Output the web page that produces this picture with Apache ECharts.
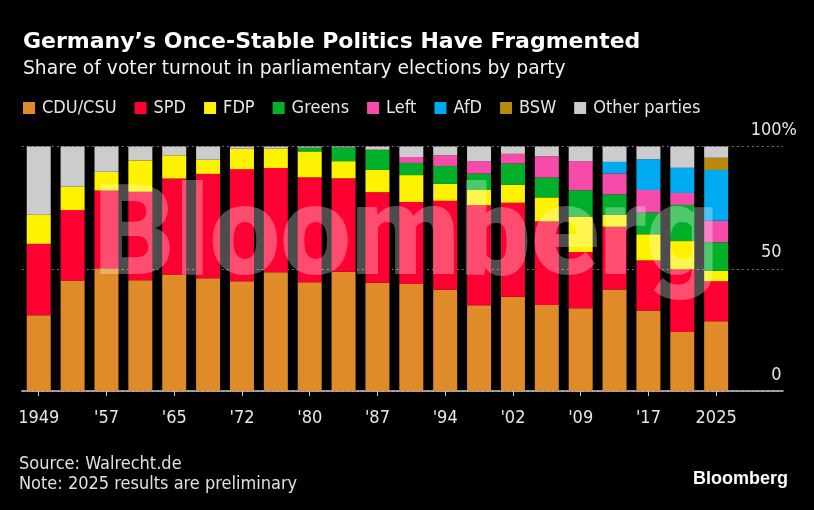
<!DOCTYPE html>
<html>
<head>
<meta charset="utf-8">
<title>Germany's Once-Stable Politics Have Fragmented</title>
<script src="https://cdn.jsdelivr.net/npm/echarts@6/dist/echarts.min.js"></script>
<style>
  html, body { margin: 0; padding: 0; background: #000; }
  #main { width: 814px; height: 510px; }
</style>
</head>
<body>
<div id="main"></div>
<script>
// election years, shown every other one on the axis
var elections = ['1949', "'53", "'57", "'61", "'65", "'69", "'72", "'76", "'80", "'83", "'87",
                 "'90", "'94", "'98", "'02", "'05", "'09", "'13", "'17", "'21", '2025'];

// share of the vote, %
var cdu    = [31.0, 45.2, 50.2, 45.3, 47.6, 46.1, 44.9, 48.6, 44.5, 48.8, 44.3, 43.8, 41.4, 35.1, 38.5, 35.2, 33.8, 41.5, 32.9, 24.1, 28.5];
var spd    = [29.2, 28.8, 31.8, 36.2, 39.3, 42.7, 45.8, 42.6, 42.9, 38.2, 37.0, 33.5, 36.4, 40.9, 38.5, 34.2, 23.0, 25.7, 20.5, 25.7, 16.4];
var fdp    = [11.9, 9.5, 7.7, 12.8, 9.5, 5.8, 8.4, 7.9, 10.6, 7.0, 9.1, 11.0, 6.9, 6.2, 7.4, 9.8, 14.6, 4.8, 10.7, 11.5, 4.3];
var greens = [0, 0, 0, 0, 0, 0, 0, 0, 1.5, 5.6, 8.3, 5.0, 7.3, 6.7, 8.6, 8.1, 10.7, 8.4, 8.9, 14.8, 11.6];
var left   = [0, 0, 0, 0, 0, 0, 0, 0, 0, 0, 0, 2.4, 4.4, 5.1, 4.0, 8.7, 11.9, 8.6, 9.2, 4.9, 8.8];
var afd    = [0, 0, 0, 0, 0, 0, 0, 0, 0, 0, 0, 0, 0, 0, 0, 0, 0, 4.7, 12.6, 10.3, 20.8];
var bsw    = [0, 0, 0, 0, 0, 0, 0, 0, 0, 0, 0, 0, 0, 0, 0, 0, 0, 0, 0, 0, 5.0];
var other  = [27.9, 16.5, 10.3, 5.7, 3.6, 5.4, 0.9, 0.9, 0.5, 0.4, 1.3, 4.3, 3.6, 6.0, 3.0, 4.0, 6.0, 6.3, 5.2, 8.7, 4.6];

var yTicks = [0, 50, 100];

var parties = [
    { name: 'CDU/CSU',       data: cdu,    color: '#e08b2a' },
    { name: 'SPD',           data: spd,    color: '#ff0033' },
    { name: 'FDP',           data: fdp,    color: '#fff200' },
    { name: 'Greens',        data: greens, color: '#00b02a' },
    { name: 'Left',          data: left,   color: '#f64bab' },
    { name: 'AfD',           data: afd,    color: '#00aaf0' },
    { name: 'BSW',           data: bsw,    color: '#b8880f' },
    { name: 'Other parties', data: other,  color: '#cccccc' }
];

var cond = '"DejaVu Sans Condensed", "DejaVu Sans", sans-serif';
var plotTop = 146.5, plotH = 244.5;

var series = parties.map(function (p) {
    return {
        name: p.name,
        type: 'bar',
        stack: 'all',
        barWidth: 24,
        xAxisIndex: 0,
        yAxisIndex: 0,
        itemStyle: { color: p.color },
        emphasis: { disabled: true },
        data: p.data
    };
});

var option = {
    backgroundColor: '#000',
    animation: false,
    title: [
        {
            text: 'Germany’s Once-Stable Politics Have Fragmented',
            left: 18, top: 26,
            textStyle: { color: '#fff', fontSize: 22, fontWeight: 'bold', fontFamily: '"DejaVu Sans", sans-serif' }
        },
        {
            text: 'Share of voter turnout in parliamentary elections by party',
            left: 18, top: 55,
            textStyle: { color: '#f2f2f2', fontSize: 18.7, fontWeight: 'normal', fontFamily: '"DejaVu Sans", sans-serif' }
        }
    ],
    legend: {
        left: 18, top: 94,
        icon: 'rect',
        itemWidth: 12, itemHeight: 12,
        itemGap: 18,
        selectedMode: false,
        textStyle: { color: '#e6e6e6', fontSize: 18, fontFamily: cond, padding: [0, 0, 0, 2] },
        data: parties.map(function (p) { return p.name; })
    },
    grid: [
        { left: 21.8, top: plotTop, width: 711.3, height: plotH },
        { left: 21.8, top: plotTop, width: 761.2, height: plotH }
    ],
    xAxis: [
        {
            type: 'category',
            gridIndex: 0,
            data: elections,
            axisLine: { show: false },
            axisTick: { show: true, interval: 1, alignWithLabel: true, length: 5, lineStyle: { color: '#c8c8c8' } },
            axisLabel: { interval: 1, color: '#e6e6e6', fontSize: 18, fontFamily: cond, margin: 18 }
        },
        {
            type: 'value',
            gridIndex: 1,
            min: 0, max: 1,
            axisLine: { show: true, onZero: false, lineStyle: { color: '#c8c8c8', width: 1.5 } },
            axisTick: { show: false },
            axisLabel: { show: false },
            splitLine: { show: false }
        }
    ],
    yAxis: [
        { type: 'value', gridIndex: 0, min: 0, max: 100, show: false },
        {
            type: 'value',
            gridIndex: 1,
            position: 'right',
            min: 0, max: 100, interval: 50,
            axisLine: { show: false },
            axisTick: { show: false },
            splitLine: { show: true, lineStyle: { color: '#777', type: [2, 3], width: 1 } },
            axisLabel: {
                margin: 14,
                align: 'right',
                verticalAlign: 'bottom',
                padding: [0, 0, 7, 0],
                color: '#e6e6e6',
                fontSize: 18,
                fontFamily: cond,
                formatter: function (v) {
                    if (yTicks.indexOf(v) < 0) return '';
                    return v === 100 ? '100%' : v + '{h|%}';
                },
                rich: { h: { color: 'transparent', fontSize: 18, fontFamily: cond } }
            }
        }
    ],
    graphic: [
        {
            type: 'text', x: 406, y: 242, z: 100, silent: true,
            style: {
                text: 'Bloomberg', x: 0, y: 0,
                fontSize: 126, fontWeight: 900,
                fontFamily: 'Roboto, "Liberation Sans", Arial, sans-serif',
                fill: 'rgba(255,255,255,0.3)',
                align: 'center', verticalAlign: 'middle'
            }
        },
        {
            type: 'text', left: 19, top: 455,
            style: { text: 'Source: Walrecht.de', fill: '#e0e0e0', font: '18px ' + cond }
        },
        {
            type: 'text', left: 19, top: 475,
            style: { text: 'Note: 2025 results are preliminary', fill: '#e0e0e0', font: '18px ' + cond }
        },
        {
            type: 'text', right: 26, top: 470,
            style: { text: 'Bloomberg', fill: '#fff', font: 'bold 18px "Liberation Sans", Arial, sans-serif' }
        }
    ],
    series: series
};

var myChart = echarts.init(document.getElementById('main'));
myChart.setOption(option);
</script>
</body>
</html>
